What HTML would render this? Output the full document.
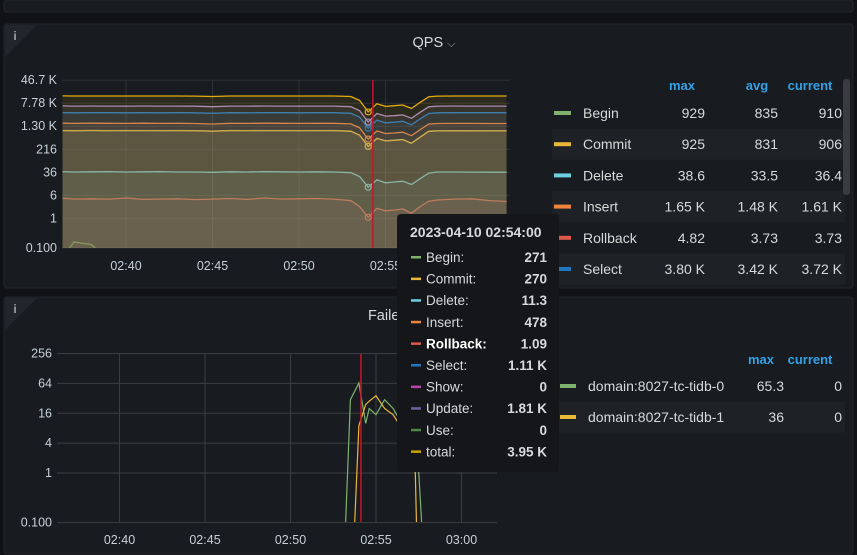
<!DOCTYPE html>
<html><head><meta charset="utf-8">
<style>
html,body{margin:0;padding:0;background:#111217;width:857px;height:555px;overflow:hidden;font-family:"Liberation Sans",sans-serif;}
svg{position:absolute;left:0;top:0}
text{font-family:"Liberation Sans",sans-serif}
</style></head>
<body>
<svg id="s" width="857" height="555" viewBox="0 0 857 555" xmlns="http://www.w3.org/2000/svg">
  <rect x="4" y="0" width="849" height="12" rx="3" fill="#181b1f" stroke="#24262b"/>
  <rect x="4" y="24" width="849" height="264" rx="3" fill="#181b1f" stroke="#24262b"/>
  <rect x="4" y="297" width="849" height="257" rx="3" fill="#181b1f" stroke="#24262b"/>
  <path d="M5 25 H37 L5 57 Z" fill="#22252b"/>
  <text x="15" y="40" font-size="12" font-weight="bold" fill="#9fa1a6" text-anchor="middle">i</text>
  <path d="M5 298 H37 L5 330 Z" fill="#22252b"/>
  <text x="15" y="313" font-size="12" font-weight="bold" fill="#9fa1a6" text-anchor="middle">i</text>
  <text x="434" y="47" font-size="14.5" fill="#d8d9da" text-anchor="middle">QPS <tspan font-size="11" fill="#9fa1a6">⌵</tspan></text>
  <text x="428" y="320" font-size="14.5" fill="#d8d9da" text-anchor="middle">Failed Query OPM</text>
  <g id="topg"></g>
  <g id="botg"></g>
  <g id="leg"></g>
  <g id="tip"></g>
</svg>
<script>
// ---------- QPS data ----------
const qpsTimes = [36.33,37,38,39,40,41,42,43,44,45,46,47,48,49,50,51,52,53,53.5,54,54.5,55,55.5,56,56.5,57,57.5,58,59,60,61,62];
const qpsTotal  = [13800,13600,13700,13650,13600,13700,13600,13650,13550,13100,13650,13600,13700,13650,13600,13680,13650,13100,9700,3950,7500,6100,6400,6800,5200,8300,12900,13500,13650,13600,13600,13600];
const qpsUpdate = [6300,6200,6250,6220,6200,6250,6200,6220,6180,5950,6230,6200,6260,6220,6200,6240,6220,5950,4400,1810,3500,2850,2950,3150,2400,3850,5900,6200,6250,6230,6220,6220];
const qpsSelect = [3750,3700,3720,3710,3700,3730,3700,3710,3690,3550,3720,3700,3730,3710,3700,3720,3710,3550,2650,1110,2100,1700,1780,1900,1450,2300,3500,3700,3720,3710,3720,3720];
const qpsInsert = [1650,1620,1640,1630,1625,1640,1620,1630,1610,1540,1630,1620,1640,1630,1620,1635,1630,1560,1150,478,900,740,770,820,620,990,1550,1610,1620,1615,1610,1610];
const qpsBegin  = [930,925,935,928,930,932,927,930,925,890,930,928,933,930,928,931,930,880,650,271,510,420,440,465,350,560,880,910,915,912,910,910];
const qpsCommit = [925,920,930,924,926,928,922,926,920,885,925,924,928,925,924,926,925,875,645,270,505,415,435,460,345,555,875,905,910,908,906,906];
const qpsDelete = [38,37,37.5,38,37,37.5,38,37,37,36,37.5,37,38,37.5,37,37.5,37,35,26,11.3,20,16,17,18,14,22,34,37,37,36.8,36.5,36.4];
const qpsRollback = [4.8,4.5,4.6,4.5,4.9,4.4,4.5,4.6,4.3,4.5,4.7,4.4,4.9,4.5,4.6,4.7,4.5,4.0,2.5,1.09,2.2,1.8,1.9,2.1,1.5,2.5,3.8,4.2,4.5,4.6,4.0,3.73];
const qpsUse = [0.05,0.16,0.13,0.04,0,0,0,0,0,0,0,0,0,0,0,0,0,0,0,0,0,0,0,0,0,0,0,0,0,0,0,0];
const qpsYTicks = [0.1,1,6,36,216,1300,7780,46700];
const qpsYLabels = ["0.100","1","6","36","216","1.30 K","7.78 K","46.7 K"];
const qpsXTicks = [40,45,50,55];
const qpsXLabels = ["02:40","02:45","02:50","02:55"];
const qpsCursor = 54.27;
// ---------- Failed query data ----------
const fqTimes = [36.33,40,45,50,52.5,53,53.5,54,54.4,54.6,55,55.5,56,56.5,57,57.3,57.5,58,60,62];
const fqTidb0 = [0,0,0,0,0,0,30,65.3,10,20,15,30,20,10,5,2,1,0,0,0];
const fqTidb1 = [0,0,0,0,0,0,0,9,24,28,36,20,15,8,3,1,0,0,0,0];
const fqYTicks = [0.1,1,4,16,64,256];
const fqYLabels = ["0.100","1","4","16","64","256"];
const fqXTicks = [40,45,50,55,60];
const fqXLabels = ["02:40","02:45","02:50","02:55","03:00"];
const fqCursor = 54.12;

const NS="http://www.w3.org/2000/svg";
function mk(tag,attrs,parent,txt){const e=document.createElementNS(NS,tag);for(const k in attrs)e.setAttribute(k,attrs[k]);if(txt!==undefined)e.textContent=txt;parent.appendChild(e);return e;}

// QPS axes
const T={x0:62,x1:510,y0:80,y1:248};
function qx(t){return 126+(t-40)*17.3;}
function qy(v){v=Math.max(v,0.001);return 248-29.6*Math.log10(v/0.1);}
const topG=document.getElementById('topg');
const cpTop=mk('clipPath',{id:'cpTop'},topG);
mk('rect',{x:T.x0,y:T.y0-2,width:T.x1-T.x0,height:T.y1-T.y0+2},cpTop);
qpsYTicks.forEach((v,i)=>{
  const g=mk('line',{x1:T.x0,x2:T.x1,y1:qy(v),y2:qy(v),stroke:'#2f3136','stroke-width':1},topG);
  
  const t=mk('text',{x:57,y:qy(v)+4,'font-size':12.5,fill:'#c7d0d9','text-anchor':'end'},topG,qpsYLabels[i]);
  
});
qpsXTicks.forEach((v,i)=>{
  const g=mk('line',{x1:qx(v),x2:qx(v),y1:T.y0,y2:T.y1,stroke:'#2f3136','stroke-width':1},topG);
  
  const t=mk('text',{x:qx(v),y:270,'font-size':12.5,fill:'#c7d0d9','text-anchor':'middle'},topG,qpsXLabels[i]);
  
});
const qpsSeries=[
  ['use',qpsUse,'#56a64b'],['rollback',qpsRollback,'#e0584a'],['delete',qpsDelete,'#6ed0e0'],
  ['begin',qpsBegin,'#7eb26d'],['commit',qpsCommit,'#eab839'],['insert',qpsInsert,'#ef843c'],
  ['select',qpsSelect,'#1f78c1'],['update',qpsUpdate,'#a48bc8'],['total',qpsTotal,'#e5ac0e']];
const gTop=mk('g',{'clip-path':'url(#cpTop)'},topG);
qpsSeries.forEach(([n,vals,c])=>{
  let d='';vals.forEach((v,i)=>{d+=(i?'L':'M')+qx(qpsTimes[i]).toFixed(1)+' '+qy(v).toFixed(1);});
  if(n!=='use'){
    const a=mk('path',{d:d+`L${qx(qpsTimes[qpsTimes.length-1])} ${T.y1}L${qx(qpsTimes[0])} ${T.y1}Z`,fill:c,'fill-opacity':0.1},gTop);
    
  }
  const l=mk('path',{d:d,fill:'none',stroke:c,'stroke-width':1.3},gTop);
  
  const ci=qpsTimes.indexOf(54);
  if(n!=='use'){
    const m=mk('circle',{cx:qx(54),cy:qy(vals[ci]),r:3,fill:'none',stroke:c,'stroke-width':1.2},gTop);
    
  }
});
const qc=mk('line',{x1:qx(qpsCursor),x2:qx(qpsCursor),y1:T.y0,y2:T.y1,stroke:'#c4162a','stroke-width':1.5},topG);


// Failed query axes
const B={x0:57,x1:497,y0:354,y1:522};
function fx(t){return 376+(t-55)*17.1;}
function fy(v){v=Math.max(v,0.001);return 473-49.6*Math.log10(v);}
const botG=document.getElementById('botg');
const cpBot=mk('clipPath',{id:'cpBot'},botG);
mk('rect',{x:B.x0,y:B.y0-2,width:B.x1-B.x0,height:B.y1-B.y0+2},cpBot);
fqYTicks.forEach((v,i)=>{
  const g=mk('line',{x1:B.x0,x2:B.x1,y1:fy(v),y2:fy(v),stroke:'#3a3c41','stroke-width':1},botG);
  
  const t=mk('text',{x:52,y:fy(v)+4,'font-size':12.5,fill:'#c7d0d9','text-anchor':'end'},botG,fqYLabels[i]);
  
});
fqXTicks.forEach((v,i)=>{
  const g=mk('line',{x1:fx(v),x2:fx(v),y1:B.y0,y2:B.y1,stroke:'#3a3c41','stroke-width':1},botG);
  
  const t=mk('text',{x:fx(v),y:544,'font-size':12.5,fill:'#c7d0d9','text-anchor':'middle'},botG,fqXLabels[i]);
  
});
const gBot=mk('g',{'clip-path':'url(#cpBot)'},botG);
[['tidb-0',fqTidb0,'#7eb26d'],['tidb-1',fqTidb1,'#eab839']].forEach(([n,vals,c])=>{
  let d='';vals.forEach((v,i)=>{d+=(i?'L':'M')+fx(fqTimes[i]).toFixed(1)+' '+fy(v).toFixed(1);});
  const l=mk('path',{d:d,fill:'none',stroke:c,'stroke-width':1.2},gBot);
  
});
const fc=mk('line',{x1:fx(fqCursor),x2:fx(fqCursor),y1:B.y0,y2:B.y1,stroke:'#c4162a','stroke-width':1.5},botG);


// Legends
const leg=document.getElementById('leg');
const H='#33a2e5';
[['max',682],['avg',757],['current',810]].forEach(([t,x])=>{
  const e=mk('text',{x:x,y:90,'font-size':13,'font-weight':'bold',fill:H,'text-anchor':'middle'},leg,t);
  
});
const qLeg=[['Begin','#7eb26d','929','835','910'],['Commit','#eab839','925','831','906'],['Delete','#6ed0e0','38.6','33.5','36.4'],
 ['Insert','#ef843c','1.65 K','1.48 K','1.61 K'],['Rollback','#e0584a','4.82','3.73','3.73'],['Select','#1f78c1','3.80 K','3.42 K','3.72 K']];
qLeg.forEach((r,i)=>{
  const y=113+i*31.2;
  if(i%2===1){const b=mk('rect',{x:552,y:y-15.5,width:293,height:31,fill:'#1e2126'},leg);}
  const s=mk('rect',{x:554,y:y-2,width:17,height:4,fill:r[1]},leg);
  const n=mk('text',{x:583,y:y+5,'font-size':14,fill:'#d8d9da'},leg,r[0]);
  [[r[2],705],[r[3],778],[r[4],842]].forEach(([v,x])=>{const t=mk('text',{x:x,y:y+5,'font-size':14,fill:'#d8d9da','text-anchor':'end'},leg,v);});
});
const sb=mk('rect',{x:843,y:79,width:7,height:116,rx:3,fill:'#3a3c42'},leg);
[['max',761],['current',810]].forEach(([t,x])=>{
  const e=mk('text',{x:x,y:364,'font-size':13,'font-weight':'bold',fill:H,'text-anchor':'middle'},leg,t);
  
});
[['domain:8027-tc-tidb-0','#7eb26d','65.3','0'],['domain:8027-tc-tidb-1','#eab839','36','0']].forEach((r,i)=>{
  const y=386+i*31;
  if(i===1){const b=mk('rect',{x:555,y:y-15.5,width:290,height:31,fill:'#1e2126'},leg);}
  const s=mk('rect',{x:560,y:y-2,width:16,height:4,fill:r[1]},leg);
  const n=mk('text',{x:588,y:y+5,'font-size':14,fill:'#d8d9da'},leg,r[0]);
  [[r[2],784],[r[3],842]].forEach(([v,x])=>{const t=mk('text',{x:x,y:y+5,'font-size':14,fill:'#d8d9da','text-anchor':'end'},leg,v);});
});

// Tooltip
const tip=document.getElementById('tip');
const tb=mk('rect',{x:397,y:214,width:162,height:258,rx:4,fill:'#141619'},tip);

const tt=mk('text',{x:410,y:237,'font-size':14,'font-weight':'bold',fill:'#d8d9da'},tip,'2023-04-10 02:54:00');

const tipRows=[['Begin','#7eb26d','271'],['Commit','#eab839','270'],['Delete','#6ed0e0','11.3'],['Insert','#ef843c','478'],['Rollback','#e0584a','1.09'],
 ['Select','#1f78c1','1.11 K'],['Show','#ba43a9','0'],['Update','#705da0','1.81 K'],['Use','#508642','0'],['total','#cca300','3.95 K']];
tipRows.forEach((r,i)=>{
  const y=257+i*21.6;
  const s=mk('rect',{x:411,y:y-1,width:10,height:2.5,fill:r[1]},tip);
  const bold=r[0]==='Rollback';
  const n=mk('text',{x:426,y:y+5,'font-size':13.5,fill:bold?'#ffffff':'#d8d9da','font-weight':bold?'bold':'normal'},tip,r[0]+':');
  
  const v=mk('text',{x:547,y:y+5,'font-size':13.5,'font-weight':'bold',fill:'#d8d9da','text-anchor':'end'},tip,r[2]);
  
});
</script>
</body></html>
